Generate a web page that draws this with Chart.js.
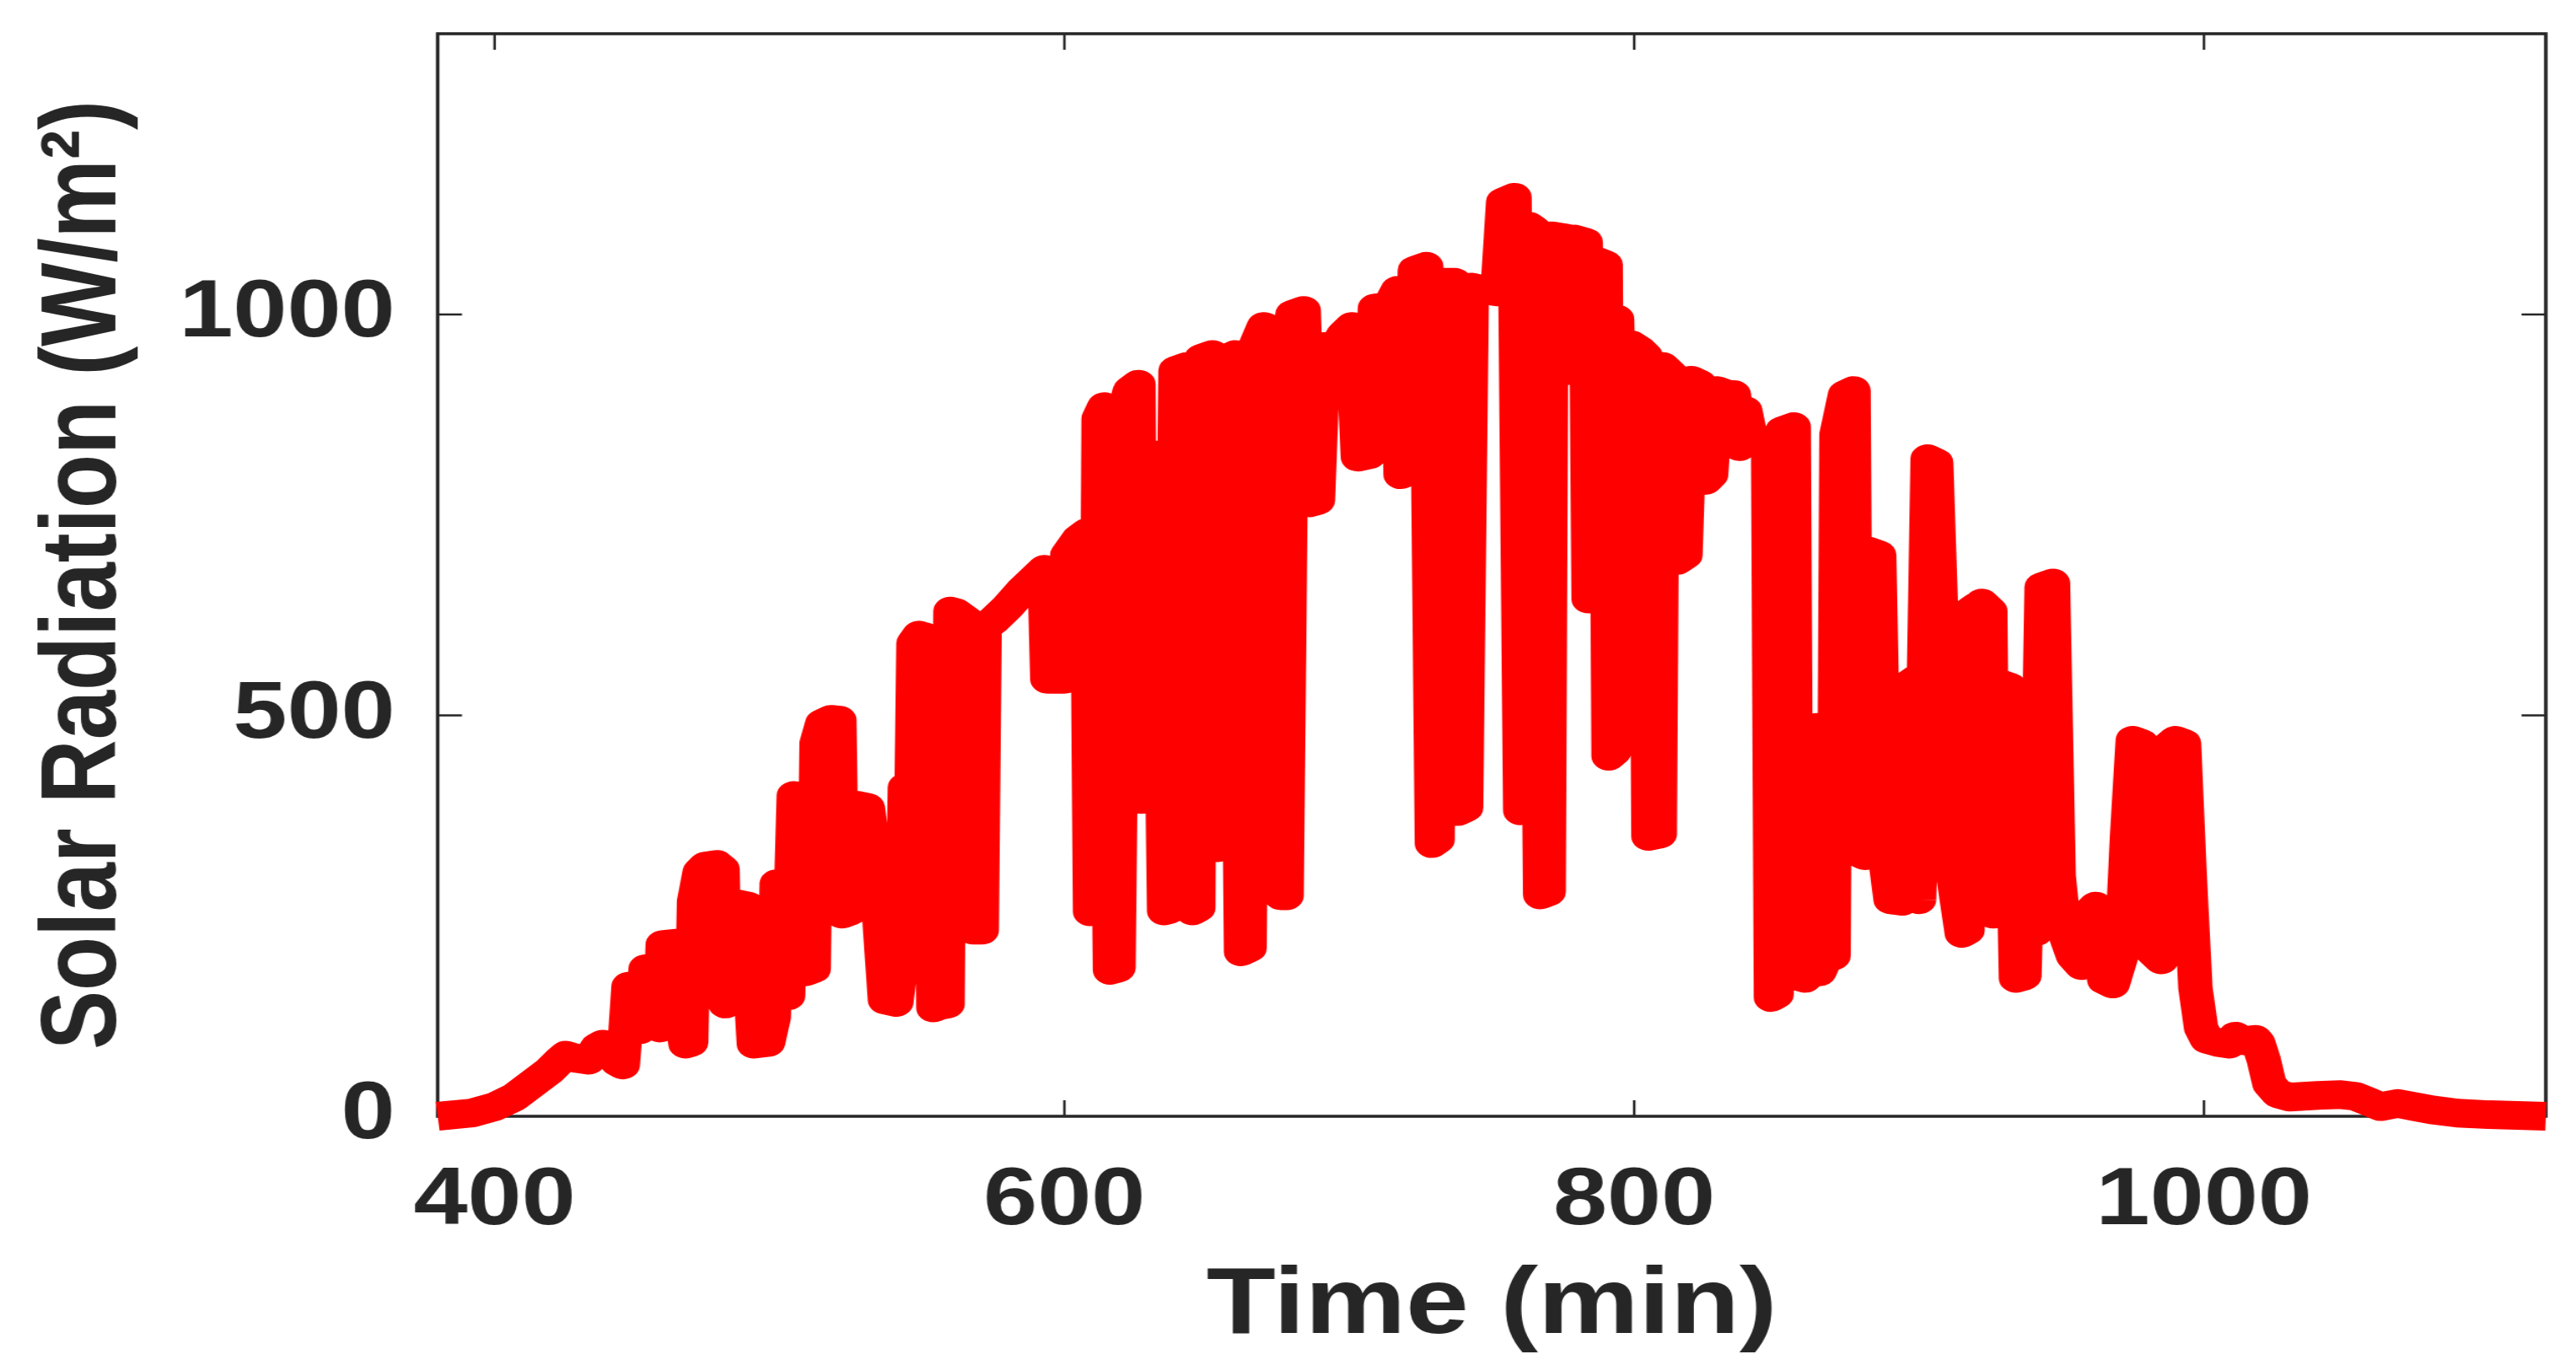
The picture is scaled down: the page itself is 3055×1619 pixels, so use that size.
<!DOCTYPE html>
<html lang="en">
<head>
  <meta charset="UTF-8">
  <title>Solar Radiation</title>
  <script src="https://cdn.jsdelivr.net/npm/chart.js"></script>
  <style>
    html, body { margin: 0; padding: 0; background: #fff; overflow: hidden; }
    /* the original figure is stretched sideways, so stretch the canvas the same way */
    #wrap { width: 2546px; height: 1619px; transform: scaleX(1.2); transform-origin: 0 0; }
  </style>
</head>
<body>
  <div id="wrap">
    <canvas id="chart" width="2546" height="1619"></canvas>
  </div>

  <script>
    // time of day in minutes
    var timeMin = [
      380, 392, 400, 407, 413, 419, 423, 425, 429, 433, 436, 438, 441, 443, 445, 446, 447, 450, 451, 453,
      457, 458, 459, 464, 465, 467, 469, 470, 472, 474, 478, 480, 481, 483, 485, 489, 490, 491, 496, 498,
      499, 502, 503, 505, 508, 509, 512, 513, 515, 518, 521, 522, 525, 527, 531, 534, 537, 541, 543, 544,
      546, 547, 549, 550, 551, 553, 554, 556, 559, 560, 562, 567, 568, 571, 572, 575, 580, 585, 590, 593,
      594, 600, 601, 605, 608, 609, 611, 612, 614, 616, 619, 621, 623, 626, 627, 630, 631, 633, 635, 637,
      639, 643, 645, 647, 648, 652, 654, 656, 657, 660, 662, 665, 667, 670, 673, 676, 678, 680, 684, 686,
      689, 691, 695, 698, 701, 703, 707, 709, 714, 717, 718, 721, 723, 727, 729, 731, 732, 737, 738, 741,
      743, 748, 752, 754, 758, 760, 762, 763, 765, 767, 770, 771, 776, 777, 779, 783, 784, 786, 787, 790,
      791, 793, 794, 797, 799, 802, 804, 805, 809, 810, 813, 815, 818, 820, 823, 825, 827, 829, 833, 835,
      837, 839, 841, 845, 847, 848, 850, 852, 856, 857, 860, 862, 864, 865, 867, 870, 871, 874, 877, 878,
      881, 882, 886, 888, 890, 894, 897, 899, 900, 901, 903, 906, 908, 912, 915, 917, 918, 920, 921, 922,
      925, 926, 928, 932, 934, 937, 939, 940, 941, 943, 947, 949, 951, 954, 957, 960, 962, 965, 968, 971,
      973, 975, 978, 980, 982, 985, 987, 990, 993, 995, 997, 999, 1001, 1005, 1009, 1011, 1014, 1018, 1019, 1021,
      1023, 1026, 1030, 1040, 1048, 1053, 1058, 1062, 1068, 1074, 1080, 1089, 1100, 1110, 1120
    ];

    // solar radiation in W/m2
    var radiation = [
      0, 4, 12, 24, 40, 56, 70, 76, 72, 70, 86, 90, 76, 68, 64, 110, 162, 164, 108, 184,
      186, 110, 214, 216, 140, 90, 92, 268, 305, 312, 314, 308, 140, 148, 265, 262, 150, 90, 92, 124,
      290, 288, 150, 400, 398, 180, 184, 465, 490, 495, 494, 252, 256, 388, 385, 300, 145, 142, 200, 410,
      300, 590, 600, 330, 598, 540, 135, 138, 140, 630, 628, 615, 232, 232, 610, 618, 635, 655, 672, 682,
      545, 545, 700, 720, 728, 255, 258, 870, 885, 182, 185, 880, 905, 913, 395, 400, 825, 820, 256, 258,
      930, 935, 256, 260, 945, 950, 335, 338, 945, 950, 205, 210, 960, 985, 980, 275, 275, 1000, 1005, 765,
      768, 960, 958, 975, 985, 822, 825, 1008, 1010, 1030, 800, 805, 1055, 1060, 340, 345, 1040, 1040, 380, 385,
      1034, 1030, 1028, 1140, 1146, 381, 385, 1110, 1105, 276, 280, 1098, 1095, 930, 1094, 1090, 645, 650, 1066, 1062,
      449, 455, 994, 581, 962, 955, 948, 349, 352, 935, 925, 693, 700, 918, 913, 793, 800, 905, 900, 900,
      835, 880, 845, 841, 840, 148, 152, 855, 860, 175, 172, 480, 485, 180, 196, 200, 850, 900, 905, 330,
      325, 705, 700, 325, 270, 268, 540, 545, 270, 400, 820, 815, 600, 300, 228, 232, 630, 635, 505, 640,
      630, 252, 540, 535, 172, 175, 465, 240, 230, 660, 665, 300, 230, 200, 188, 255, 262, 170, 165, 200,
      350, 469, 465, 400, 205, 195, 460, 469, 465, 300, 160, 110, 96, 92, 90, 100, 94, 96, 92, 70,
      40, 28, 24, 26, 27, 25, 18, 12, 16, 12, 8, 4, 2, 1, 0
    ];

    var xTickValues = [400, 600, 800, 1000];
    var yTickValues = [0, 500, 1000];

    var points = [];
    for (var i = 0; i < timeMin.length; i++) {
      points.push({ x: timeMin[i], y: radiation[i] });
    }

    var axisColor = '#262626';
    var tickFont = { family: 'Liberation Sans', size: 96, weight: 'bold' };

    // box round the plot with inward tick marks, like the original figure
    var framePlugin = {
      id: 'frame',
      beforeDatasetsDraw: function(chart) {
        var ctx = chart.ctx;
        var a = chart.chartArea;
        var xs = chart.scales.x;
        var ys = chart.scales.y;
        ctx.save();
        ctx.strokeStyle = axisColor;
        ctx.lineWidth = 2.5;
        xs.ticks.forEach(function(t) {
          var px = xs.getPixelForValue(t.value);
          ctx.beginPath();
          ctx.moveTo(px, a.bottom); ctx.lineTo(px, a.bottom - 19);
          ctx.moveTo(px, a.top); ctx.lineTo(px, a.top + 19);
          ctx.stroke();
        });
        ys.ticks.forEach(function(t) {
          var py = ys.getPixelForValue(t.value);
          ctx.beginPath();
          ctx.moveTo(a.left, py); ctx.lineTo(a.left + 24, py);
          ctx.moveTo(a.right, py); ctx.lineTo(a.right - 24, py);
          ctx.stroke();
        });
        ctx.lineWidth = 3.5;
        ctx.strokeRect(a.left, a.top, a.right - a.left, a.bottom - a.top);
        ctx.restore();
      }
    };

    function plainLabel(v) { return String(v); }

    var ctx = document.getElementById('chart').getContext('2d');
    var chart = new Chart(ctx, {
      type: 'line',
      data: {
        datasets: [{
          label: 'Solar Radiation',
          data: points,
          borderColor: '#ff0000',
          backgroundColor: '#ff0000',
          borderWidth: 34,
          borderJoinStyle: 'round',
          borderCapStyle: 'butt',
          pointRadius: 0,
          tension: 0,
          fill: false,
          clip: false
        }]
      },
      options: {
        responsive: false,
        animation: false,
        devicePixelRatio: 1,
        layout: { padding: { top: 40, right: 30, left: 0, bottom: 0 } },
        plugins: {
          legend: { display: false },
          tooltip: { enabled: false }
        },
        scales: {
          x: {
            type: 'linear',
            min: 380,
            max: 1120,
            afterBuildTicks: function(scale) {
              scale.ticks = xTickValues.map(function(v) { return { value: v }; });
            },
            afterFit: function(scale) {
              scale.height = 295;
              scale.paddingLeft = 0;
              scale.paddingRight = 0;
            },
            grid: { display: false, drawTicks: false },
            border: { display: false },
            ticks: { font: tickFont, color: axisColor, padding: 44, maxRotation: 0, autoSkip: false, callback: plainLabel },
            title: {
              display: true,
              text: 'Time (min)',
              font: { family: 'Liberation Sans', size: 112, weight: 'bold' },
              color: axisColor,
              padding: { top: 0, bottom: 2 }
            }
          },
          y: {
            min: 0,
            max: 1350,
            afterBuildTicks: function(scale) {
              scale.ticks = yTickValues.map(function(v) { return { value: v }; });
            },
            afterFit: function(scale) {
              scale.width = 432.5;
              scale.paddingTop = 0;
              scale.paddingBottom = 0;
            },
            grid: { display: false, drawTicks: false },
            border: { display: false },
            ticks: { font: tickFont, color: axisColor, padding: 42, autoSkip: false, callback: plainLabel },
            title: {
              display: true,
              text: 'Solar Radiation (W/m²)',
              font: { family: 'Liberation Sans', size: 105, weight: 'bold' },
              color: axisColor,
              padding: { top: 22, bottom: 0 }
            }
          }
        }
      },
      plugins: [framePlugin]
    });
  </script>
</body>
</html>
